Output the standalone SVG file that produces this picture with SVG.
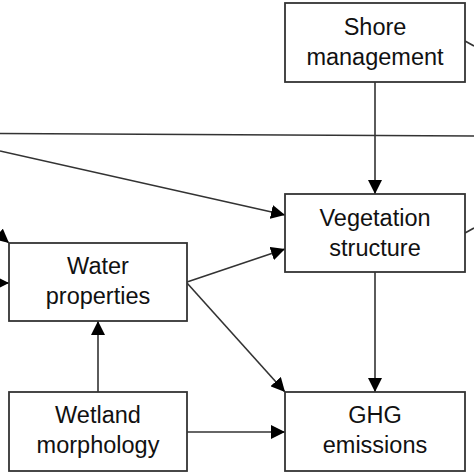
<svg xmlns="http://www.w3.org/2000/svg" width="474" height="474" viewBox="0 0 474 474">
<defs>
<marker id="ah" viewBox="0 0 14 14" refX="14" refY="7" markerWidth="14" markerHeight="14" markerUnits="userSpaceOnUse" orient="auto">
<path d="M0,0 L14,7 L0,14 Z" fill="#000"/>
</marker>
<style>
.box{fill:#fff;stroke:#333;stroke-width:1.8}
.t{font-family:"Liberation Sans",Arial,sans-serif;font-size:23.5px;fill:#111;text-anchor:middle}
.c{fill:none;stroke:#333;stroke-width:1.6}
.a{marker-end:url(#ah)}
</style>
</defs>
<rect width="474" height="474" fill="#fff"/>
<g id="connectors">
<line class="c" x1="0" y1="133.5" x2="474" y2="136"/>
<line class="c a" x1="0" y1="151" x2="285" y2="215"/>
<line class="c a" x1="375" y1="82" x2="375" y2="194"/>
<line class="c a" x1="375" y1="272" x2="375" y2="392"/>
<line class="c a" x1="98" y1="392" x2="98" y2="321"/>
<line class="c a" x1="187" y1="432" x2="285" y2="432"/>
<line class="c a" x1="187" y1="282" x2="285" y2="249"/>
<line class="c a" x1="187" y1="283" x2="285" y2="392"/>
<line class="c a" x1="-4" y1="232" x2="9" y2="243"/>
<line class="c a" x1="-6" y1="283" x2="9" y2="283"/>
<line class="c" x1="465" y1="41" x2="474" y2="46"/>
<line class="c" x1="465" y1="233" x2="474" y2="228"/>
</g>
<g id="shore">
<rect class="box" x="285" y="3" width="180" height="79"/>
<text class="t" x="375" y="35">Shore</text>
<text class="t" x="375" y="65">management</text>
</g>
<g id="vegetation">
<rect class="box" x="285" y="194" width="180" height="78"/>
<text class="t" x="375" y="226">Vegetation</text>
<text class="t" x="375" y="256">structure</text>
</g>
<g id="water">
<rect class="box" x="9" y="243" width="178" height="78"/>
<text class="t" x="98" y="274">Water</text>
<text class="t" x="98" y="304">properties</text>
</g>
<g id="wetland">
<rect class="box" x="9" y="392" width="178" height="79"/>
<text class="t" x="98" y="423">Wetland</text>
<text class="t" x="98" y="453">morphology</text>
</g>
<g id="ghg">
<rect class="box" x="285" y="392" width="180" height="79"/>
<text class="t" x="375" y="423">GHG</text>
<text class="t" x="375" y="453">emissions</text>
</g>
</svg>
